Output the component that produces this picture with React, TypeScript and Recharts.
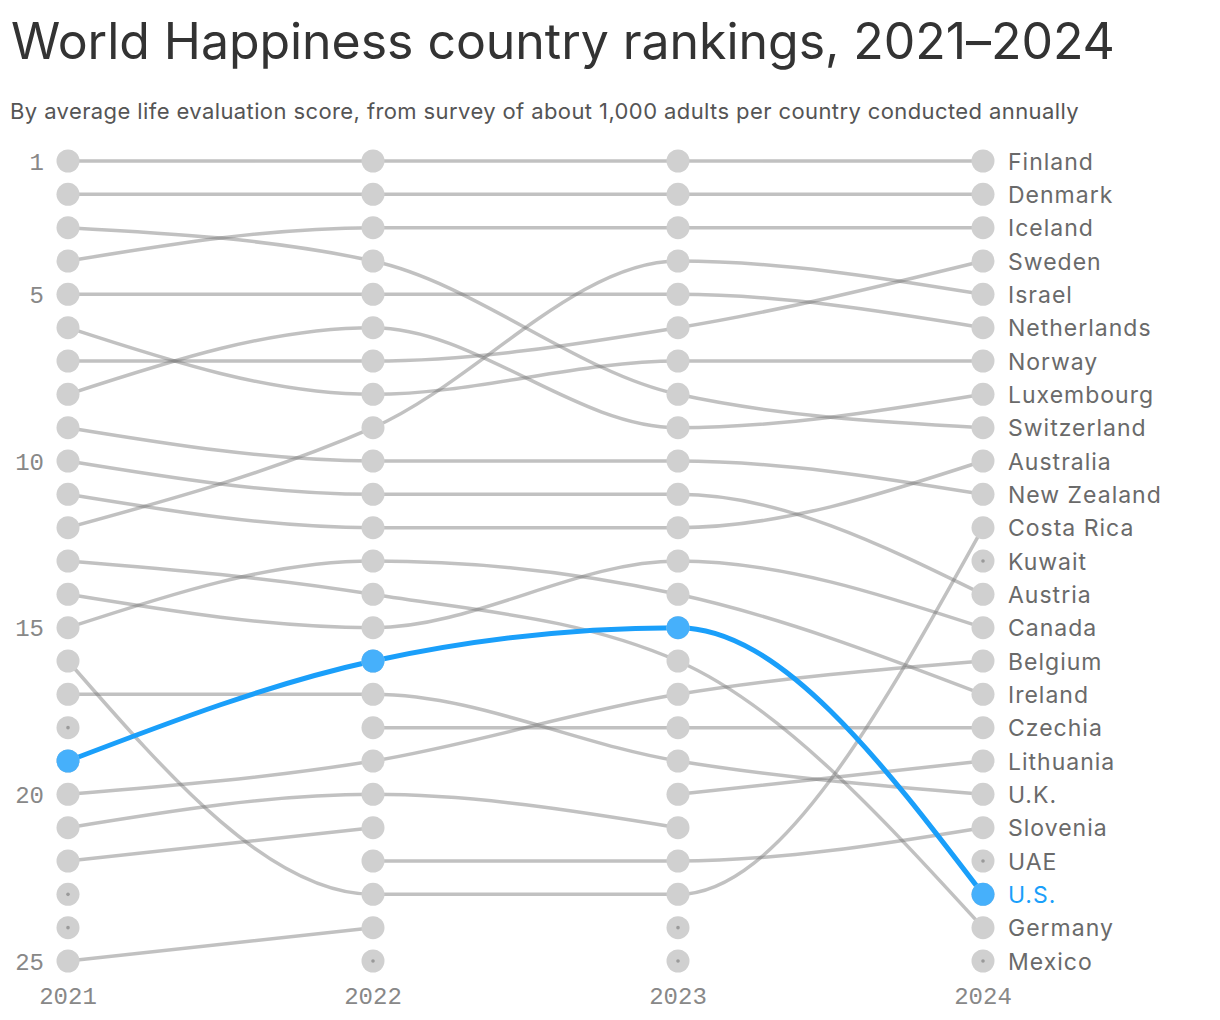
import React from "react";
import { ComposedChart, Line, XAxis, YAxis } from "recharts";

const years = [2021, 2022, 2023, 2024];
const rankTicks = [1, 5, 10, 15, 20, 25];
const allRanks = Array.from({ length: 25 }, (_, i) => i + 1);

const countries = [
  "Finland", "Denmark", "Iceland", "Sweden", "Israel", "Netherlands", "Norway",
  "Luxembourg", "Switzerland", "Australia", "New Zealand", "Costa Rica", "Kuwait",
  "Austria", "Canada", "Belgium", "Ireland", "Czechia", "Lithuania", "U.K.",
  "Slovenia", "UAE", "U.S.", "Germany", "Mexico", "Czech Republic", "France",
  "Bahrain", "Malta", "Taiwan", "Saudi Arabia", "Romania", "Singapore",
];
const ranks2021 = [1, 2, 4, 7, 12, 5, 6, 8, 3, 11, 9, 16, null, 10, 14, 20, 15, null, null, 17, null, 25, 19, 13, null, 18, 21, 22, 23, 24, null, null, null];
const ranks2022 = [1, 2, 3, 7, 9, 5, 8, 6, 4, 12, 10, 23, null, 11, 15, 19, 13, 18, null, 17, 22, 24, 16, 14, null, null, 20, 21, null, null, 25, null, null];
const ranks2023 = [1, 2, 3, 6, 4, 5, 7, 9, 8, 12, 10, 23, null, 11, 13, 17, 14, 18, 20, 19, 22, null, 15, 16, null, null, 21, null, null, null, null, 24, 25];
const ranks2024 = [1, 2, 3, 4, 5, 6, 7, 8, 9, 10, 11, 12, 13, 14, 15, 16, 17, 18, 19, 20, 21, 22, 23, 24, 25, null, null, null, null, null, null, null, null];

const highlight = "U.S.";
const BLUE = "#1a9ffa";
const BLUE_DOT = "#46b0fb";
const GREY_LINE = "rgba(120,120,120,0.46)";
const DOT_FILL = "#d0d0d0";
const MONO = "'Liberation Mono', 'DejaVu Sans Mono', monospace";
const SANS = "Inter, 'Noto Sans', sans-serif";

const rankTable = [ranks2021, ranks2022, ranks2023, ranks2024];

const seriesFor = (ci: number) =>
  years.map((year, yi) => ({ year, rank: rankTable[yi][ci] }));

const gridColumns = years.map((year) => allRanks.map((rank) => ({ year, rank })));

const labelFor = (rank: number) => {
  const ci = ranks2024.findIndex((r) => r === rank);
  return ci >= 0 ? countries[ci] : "";
};

const makeIsolatedDot = (ci: number) => (props: any) => {
  const { cx, cy, index } = props;
  const k = `d-${ci}-${index}`;
  const v = rankTable[index]?.[ci];
  if (cx == null || cy == null || v == null) return <g key={k} />;
  const prev = index > 0 ? rankTable[index - 1][ci] : null;
  const next = index < 3 ? rankTable[index + 1][ci] : null;
  if (prev == null && next == null) {
    return <circle key={k} cx={cx} cy={cy} r={1.8} fill="#9a9a9a" />;
  }
  return <g key={k} />;
};

const gridDot = (props: any) => {
  const { cx, cy, index } = props;
  if (cx == null || cy == null) return <g key={`g-${index}`} />;
  return <circle key={`g-${index}`} cx={cx} cy={cy} r={11.5} fill={DOT_FILL} />;
};

const blueDot = (props: any) => {
  const { cx, cy, index } = props;
  if (cx == null || cy == null) return <g key={`b-${index}`} />;
  return <circle key={`b-${index}`} cx={cx} cy={cy} r={11.5} fill={BLUE_DOT} />;
};

const RightTick = (props: any) => {
  const { x, y, payload } = props;
  const name = labelFor(payload.value);
  return (
    <text
      x={x}
      y={y}
      dy="0.38em"
      textAnchor="start"
      fill={name === highlight ? BLUE : "#6a6a6a"}
      fontSize={23}
      letterSpacing={1}
      fontFamily={SANS}
    >
      {name}
    </text>
  );
};

export default function App() {
  const hiIndex = countries.indexOf(highlight);
  return (
    <div style={{ position: "relative", width: 1204, height: 1004, fontFamily: SANS }}>
      <div
        style={{
          position: "absolute",
          left: 3,
          top: 8,
          fontSize: 50,
          lineHeight: "50px",
          color: "#333333",
          letterSpacing: "-0.05px",
          whiteSpace: "nowrap",
        }}
      >
        World Happiness country rankings, 2021–2024
      </div>
      <div
        style={{
          position: "absolute",
          left: 2,
          top: 90,
          fontSize: 22,
          lineHeight: "26px",
          color: "#555555",
          letterSpacing: "0.4px",
          whiteSpace: "nowrap",
        }}
      >
        By average life evaluation score, from survey of about 1,000 adults per country conducted annually
      </div>
      <div style={{ position: "absolute", left: 0, top: 0 }}>
        <ComposedChart
          width={1204}
          height={1004}
          margin={{ top: 153, right: 10, bottom: 11, left: 0 }}
          style={{ overflow: "visible" }}
        >
          <XAxis
            dataKey="year"
            type="number"
            domain={[2021, 2024]}
            ticks={years}
            axisLine={false}
            tickLine={false}
            tickSize={0}
            tickMargin={26}
            height={40}
            tick={{ fill: "#888888", fontSize: 24, fontFamily: MONO }}
          />
          <YAxis
            yAxisId="left"
            type="number"
            domain={[1, 25]}
            reversed
            ticks={rankTicks}
            axisLine={false}
            tickLine={false}
            tickSize={0}
            tickMargin={24}
            width={60}
            tick={{ fill: "#888888", fontSize: 24, fontFamily: MONO }}
          />
          <YAxis
            yAxisId="right"
            orientation="right"
            type="number"
            domain={[1, 25]}
            reversed
            ticks={allRanks}
            interval={0}
            axisLine={false}
            tickLine={false}
            tickSize={0}
            tickMargin={25}
            width={219}
            tick={<RightTick />}
          />
          {gridColumns.map((col, i) => (
            <Line
              key={`grid-${i}`}
              yAxisId={i === 3 ? "right" : "left"}
              data={col}
              dataKey="rank"
              stroke="none"
              dot={gridDot}
              activeDot={false}
              isAnimationActive={false}
            />
          ))}
          {countries.map((c, ci) =>
            c === highlight ? null : (
              <Line
                key={`c-${ci}`}
                yAxisId="left"
                data={seriesFor(ci)}
                dataKey="rank"
                type="monotone"
                stroke={GREY_LINE}
                strokeWidth={3.5}
                strokeLinecap="round"
                connectNulls={false}
                dot={makeIsolatedDot(ci)}
                activeDot={false}
                isAnimationActive={false}
              />
            )
          )}
          <Line
            yAxisId="left"
            data={seriesFor(hiIndex)}
            dataKey="rank"
            type="monotone"
            stroke={BLUE}
            strokeWidth={5}
            strokeLinecap="round"
            dot={blueDot}
            activeDot={false}
            isAnimationActive={false}
          />
        </ComposedChart>
      </div>
    </div>
  );
}
